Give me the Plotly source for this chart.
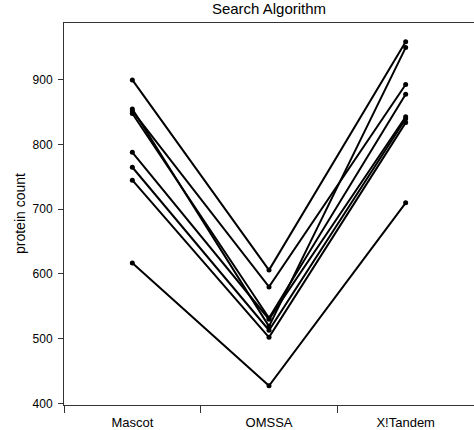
import plotly.graph_objects as go

categories = ["Mascot", "OMSSA", "X!Tandem"]
series = [
    [900, 606, 959],
    [852, 580, 893],
    [855, 519, 950],
    [848, 532, 878],
    [788, 530, 843],
    [765, 513, 840],
    [745, 502, 834],
    [617, 427, 710],
]
y_ticks = [400, 500, 600, 700, 800, 900]

fig = go.Figure()
for vals in series:
    fig.add_trace(go.Scatter(
        x=categories, y=vals, mode="lines+markers",
        line=dict(color="black", width=2),
        marker=dict(color="black", size=5),
        showlegend=False, cliponaxis=False,
    ))

W, H = 474, 430
L, R, T, B = 64, 0, 23, 25
fig.update_layout(
    width=W, height=H,
    margin=dict(l=L, r=R, t=T, b=B, autoexpand=False),
    paper_bgcolor="white", plot_bgcolor="white",
    font=dict(family="Liberation Sans, Arial, sans-serif", color="black", size=12),
    title=dict(text="Search Algorithm", x=(L + (W - L) / 2) / W, xanchor="center",
               y=1 - 9 / H, yanchor="middle", yref="container",
               font=dict(size=15, color="black")),
    xaxis=dict(
        type="category", range=[-0.5, 2.5], tickson="boundaries",
        ticks="outside", ticklen=7, tickcolor="#333", tickwidth=1,
        showline=True, linecolor="#333", linewidth=1, mirror=True,
        showgrid=False, zeroline=False, ticklabelstandoff=5,
        tickfont=dict(size=13, color="black"), automargin=False,
    ),
    yaxis=dict(
        range=[397.4, 988], tickvals=y_ticks,
        ticks="outside", ticklen=5, tickcolor="#333", tickwidth=1,
        showline=True, linecolor="#333", linewidth=1,
        showgrid=False, zeroline=False, ticklabelstandoff=3,
        tickfont=dict(size=12, color="black"), automargin=False,
    ),
    annotations=[dict(
        text="protein count", textangle=-90, showarrow=False,
        xref="paper", yref="paper",
        x=(20 - L) / (W - L - R), xanchor="center",
        y=(H - B - 214) / (H - T - B), yanchor="middle",
        font=dict(size=14, color="black"),
    )],
)

fig.write_html("out.html")
